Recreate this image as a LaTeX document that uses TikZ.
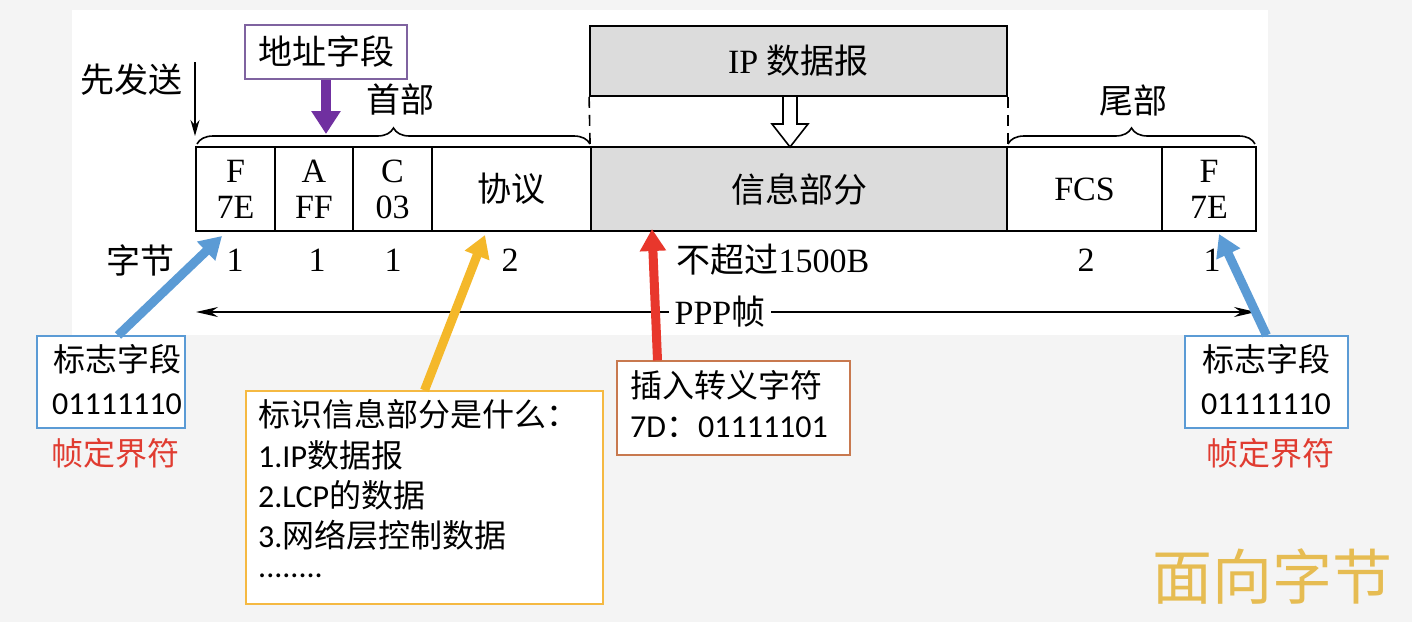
\documentclass[tikz,border=0pt]{standalone}
\usepackage{fontspec}
\setmainfont{Liberation Serif}
\newfontfamily\cjk{Noto Sans CJK SC}
\newfontfamily\calfont{Carlito}
\usetikzlibrary{arrows.meta,decorations.pathreplacing}
\definecolor{bgc}{HTML}{F4F4F4}
\definecolor{cellgray}{HTML}{DCDCDC}
\definecolor{bluec}{HTML}{5B9BD5}
\definecolor{redt}{HTML}{E03C31}
\definecolor{reda}{HTML}{E8372C}
\definecolor{yellowc}{HTML}{F4B82A}
\definecolor{yboxc}{HTML}{F5B942}
\definecolor{oboxc}{HTML}{C8794F}
\definecolor{purplec}{HTML}{7030A0}
\definecolor{pboxc}{HTML}{7F63A0}
\definecolor{goldc}{HTML}{E6BC52}
\tikzset{
  big/.style={font=\fontsize{34}{36}\selectfont},
  mid/.style={font=\fontsize{32}{36}\selectfont},
  cell/.style={draw, line width=1.8pt, minimum height=84pt, inner sep=0pt, align=center, big},
  brc/.style={decorate, decoration={brace, amplitude=16pt}, line width=1.6pt},
  fatarrow/.style={line width=9pt, -{Triangle[length=22pt,width=25pt]}},
  lbox/.style={draw, line width=1.2pt, fill=white, inner sep=0pt},
  lbl/.style={big, inner sep=0pt},
  blbl/.style={mid, inner sep=0pt},
}
\begin{document}
\begin{tikzpicture}[x=1pt,y=-1pt]
\useasboundingbox (0,0) rectangle (1412,622);
\fill[bgc] (0,0) rectangle (1412,622);
\fill[white] (72,10) rectangle (1268,335);

% IP datagram box
\node[cell, fill=cellgray, minimum width=417pt, minimum height=70pt] (ip) at (798.5,61) {IP {\cjk 数据报}};

% frame cells
\node[cell, minimum width=79pt] (f1) at (235.5,189) {F\\7E};
\node[cell, minimum width=78pt] (a) at (314,189) {A\\FF};
\node[cell, minimum width=79pt] (c) at (392.5,189) {C\\03};
\node[cell, minimum width=159pt] (proto) at (511.5,189) {\cjk 协议};
\node[cell, fill=cellgray, minimum width=416pt] (info) at (799,189) {\cjk 信息部分};
\node[cell, minimum width=155pt] (fcs) at (1084.5,189) {FCS};
\node[cell, minimum width=94pt] (f2) at (1209,189) {F\\7E};

% dashed guide lines
\draw[line width=1.6pt, dash pattern=on 11pt off 7pt] (ip.south west) -- (info.north west);
\draw[line width=1.6pt, dash pattern=on 11pt off 7pt] (ip.south east) -- (info.north east);

% hollow arrow
\draw[line width=1.6pt, fill=white] (783,96) -- (783,124) -- (772,124) -- (790,147) -- (808,124) -- (797,124) -- (797,96) -- cycle;

% braces
\draw[brc] (197,144) -- (590,144);
\node[lbl] (head) at (400,100) {\cjk 首部};
\draw[brc] (1008,144) -- (1255,144);
\node[lbl] (tail) at (1133,100) {\cjk 尾部};

% send first
\node[lbl] (send) at (131,80) {\cjk 先发送};
\coordinate (s1) at (195,62);
\coordinate (s2) at (195,136);
\draw[line width=1.6pt, -{Stealth[length=16pt,width=9pt]}] (s1) -- (s2);

% address field
\node[lbox, draw=pboxc, minimum width=162pt, minimum height=54pt, big] (addr) at (326,52) {\cjk 地址字段};
\coordinate (addrtip) at (326,134);
\draw[line width=10pt, purplec, -{Triangle[length=23pt,width=28pt]}] (addr.south) -- (addrtip);

% byte counts
\node[lbl] (bytes) at (140,260) {\cjk 字节};
\node[lbl] (b1) at (235,260) {1};
\node[lbl] (b2) at (317,260) {1};
\node[lbl] (b3) at (393,260) {1};
\node[lbl] (b4) at (510,260) {2};
\node[lbl] (b5) at (773,260) {{\cjk 不超过}1500B};
\node[lbl] (b6) at (1086,260) {2};
\node[lbl] (b7) at (1212,260) {1};

% PPP frame arrow
\coordinate (p1) at (196,312);
\coordinate (p2) at (1256,312);
\draw[line width=1.6pt, {Stealth[length=22pt,width=10pt]}-{Stealth[length=22pt,width=10pt]}] (p1) -- (p2);
\node[lbl, fill=white, inner xsep=6pt, inner ysep=2pt] (ppp) at (720,312) {PPP{\cjk 帧}};

% left flag box
\node[lbox, draw=bluec, minimum width=148pt, minimum height=92pt] (lb) at (111,382) {};
\node[blbl, align=center, font=\fontsize{32}{43}\selectfont] (lbt) at (117,380) {{\cjk 标志字段}\\{\calfont 01111110}};
\node[blbl, text=redt] (lred) at (115,453) {\cjk 帧定界符};

% right flag box
\node[lbox, draw=bluec, minimum width=163pt, minimum height=92pt] (rb) at (1266.5,382) {};
\node[blbl, align=center, font=\fontsize{32}{43}\selectfont] (rbt) at (1266,380) {{\cjk 标志字段}\\{\calfont 01111110}};
\node[blbl, text=redt] (rred) at (1270,453) {\cjk 帧定界符};

% protocol explanation box
\node[lbox, draw=yboxc, minimum width=357pt, minimum height=213pt] (yb) at (424.5,497.5) {};
\node[blbl, anchor=west] (y1) at (258,414) {\cjk 标识信息部分是什么：};
\node[blbl, anchor=west] (y2) at (258,455) {{\calfont 1.IP}{\cjk 数据报}};
\node[blbl, anchor=west] (y3) at (258,495) {{\calfont 2.LCP}{\cjk 的数据}};
\node[blbl, anchor=west] (y4) at (258,535) {{\calfont 3.}{\cjk 网络层控制数据}};
\node[blbl, anchor=west] (y5) at (258,576) {\calfont ........};

% escape box
\node[lbox, draw=oboxc, minimum width=233pt, minimum height=94pt] (ob) at (733.5,408) {};
\node[blbl, anchor=west] (o1) at (630,385) {\cjk 插入转义字符};
\node[blbl, anchor=west] (o2) at (630,427) {{\calfont 7D}{\cjk ：}{\calfont 01111101}};

% big colored arrows
\coordinate (lbtip) at (222,236);
\draw[fatarrow, bluec] ([xshift=7pt]lb.north) -- (lbtip);
\coordinate (rbtip) at (1219,234);
\draw[fatarrow, bluec] (rb.north) -- (rbtip);
\coordinate (ybtip) at (485,235);
\draw[fatarrow, yellowc] (yb.north) -- (ybtip);
\coordinate (obtip) at (652,229);
\draw[fatarrow, reda] ([xshift=-76pt]ob.north) -- (obtip);

% watermark title
\node[inner sep=0pt, text=goldc, font=\fontsize{60}{64}\selectfont] (title) at (1272,576) {\cjk 面向字节};
\end{tikzpicture}
\end{document}
